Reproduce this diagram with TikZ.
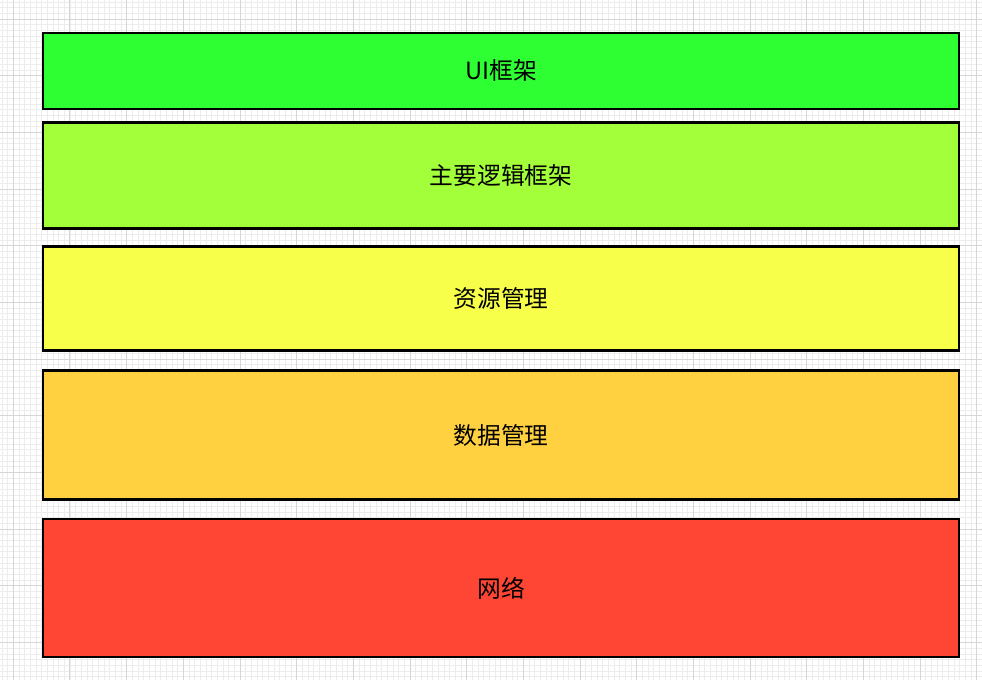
\documentclass[tikz,border=0pt]{standalone}
\usepackage{fontspec}
\setmainfont{Noto Sans CJK SC}
\definecolor{gridminor}{RGB}{236,236,236}
\definecolor{gridmajor}{RGB}{214,214,214}
\definecolor{cUI}{RGB}{46,255,51}
\definecolor{cLogic}{RGB}{163,255,58}
\definecolor{cRes}{RGB}{247,255,74}
\definecolor{cData}{RGB}{255,208,64}
\definecolor{cNet}{RGB}{255,69,51}
\tikzset{
  layer/.style={draw=black, line width=1.7pt, inner sep=0pt, outer sep=0pt,
    minimum width=687.4pt, font=\fontsize{17.8}{21}\selectfont},
}
\begin{document}
\begin{tikzpicture}[x=0.75pt,y=-0.75pt]
\useasboundingbox (0,0) rectangle (982,680);
\fill[white] (0,0) rectangle (982,680);
\begin{scope}
\clip (0,0) rectangle (982,680);
\foreach \k in {0,...,173} {
  \draw[gridminor, line width=0.75pt] ({2.0+5.6667*\k},0) -- ({2.0+5.6667*\k},680);
}
\foreach \k in {0,...,119} {
  \draw[gridminor, line width=0.75pt] (0,{2.33+5.6667*\k}) -- (982,{2.33+5.6667*\k});
}
\foreach \k in {0,...,17} {
  \draw[gridmajor, line width=0.75pt] ({13.33+56.667*\k},0) -- ({13.33+56.667*\k},680);
}
\foreach \k in {0,...,11} {
  \draw[gridmajor, line width=0.75pt] (0,{19.33+56.667*\k}) -- (982,{19.33+56.667*\k});
}
\end{scope}
\node[layer, fill=cUI,    minimum height=56.8pt]  (ui)    at (501,70.85) {UI框架};
\node[layer, fill=cLogic, minimum height=79.5pt]  (logic) at (501,175.5) {主要逻辑框架};
\node[layer, fill=cRes,   minimum height=78pt]    (res)   at (501,298.5) {资源管理};
\node[layer, fill=cData,  minimum height=96.75pt] (data)  at (501,435)   {数据管理};
\node[layer, fill=cNet,   minimum height=103.9pt] (net)   at (501,588)   {网络};
\end{tikzpicture}
\end{document}
